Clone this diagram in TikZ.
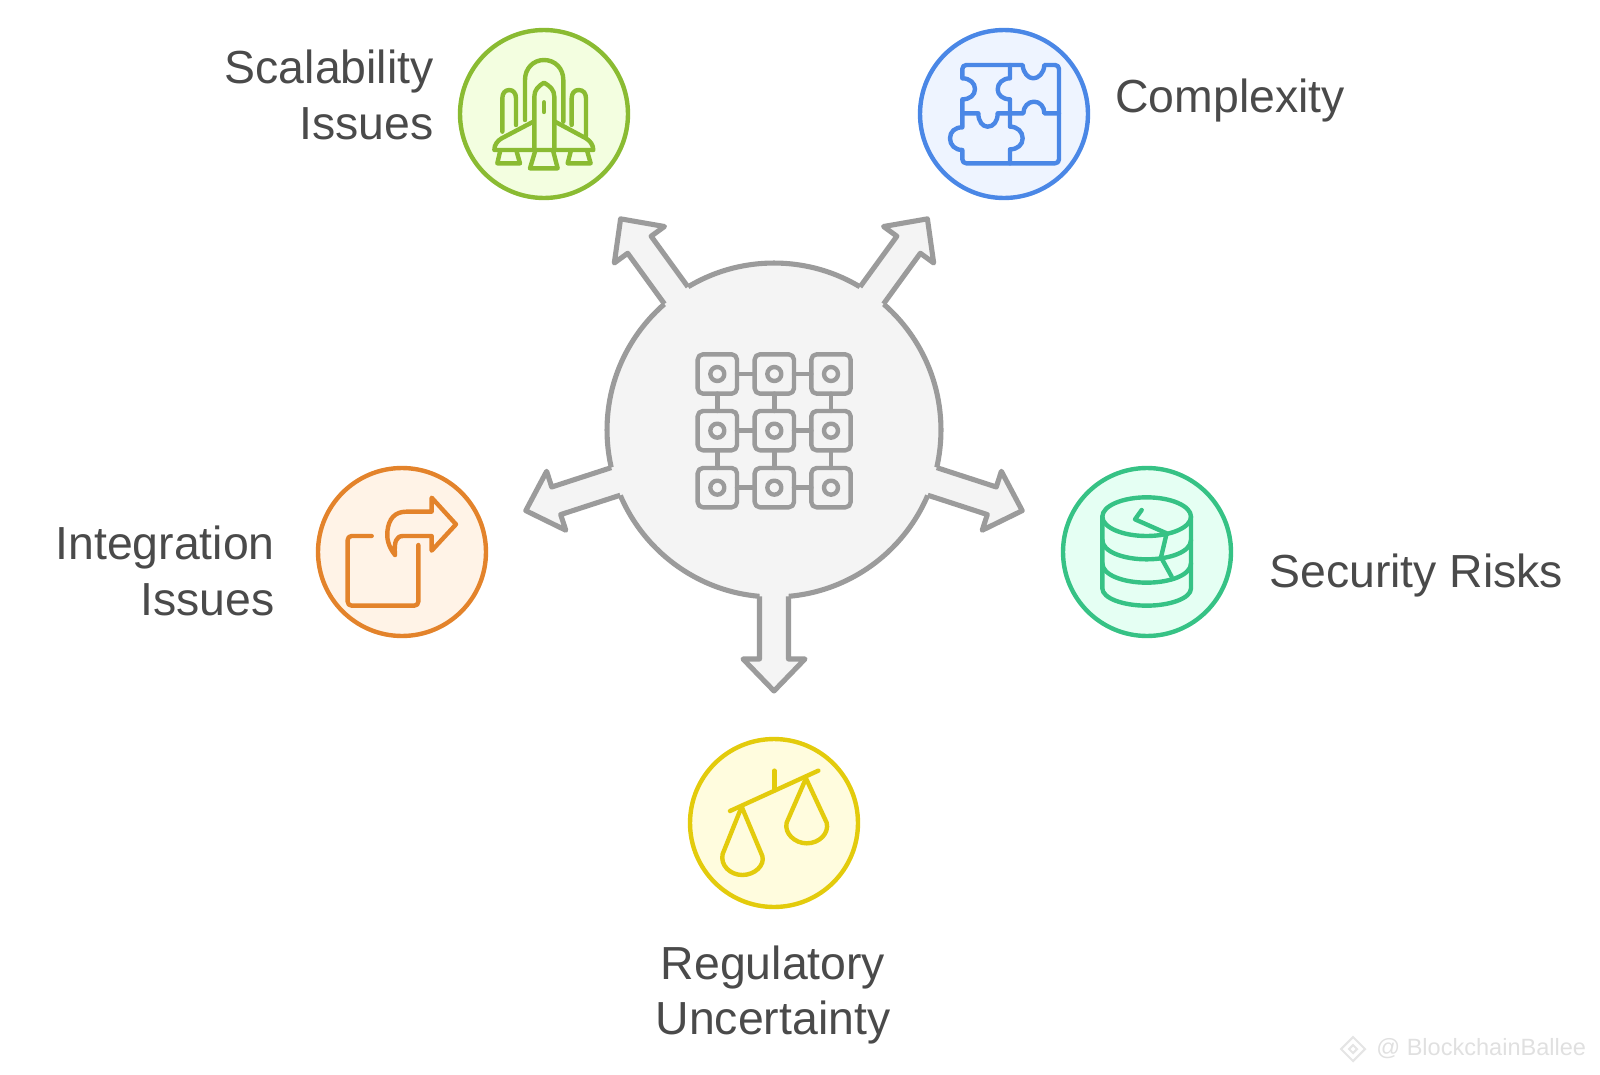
\documentclass[tikz,border=0pt]{standalone}
\usepackage{fontspec}
\setmainfont{Liberation Sans}
\usetikzlibrary{positioning}

\definecolor{hubline}{HTML}{9B9B9B}
\definecolor{hubfill}{HTML}{F4F4F4}
\definecolor{scalline}{HTML}{8ABB32}
\definecolor{scalfill}{HTML}{F3FEE0}
\definecolor{compline}{HTML}{4A87E6}
\definecolor{compfill}{HTML}{EEF4FF}
\definecolor{seculine}{HTML}{36C285}
\definecolor{secufill}{HTML}{E5FFF3}
\definecolor{inteline}{HTML}{E3832B}
\definecolor{intefill}{HTML}{FFF3E7}
\definecolor{reguline}{HTML}{E3CB0C}
\definecolor{regufill}{HTML}{FFFCDE}
\definecolor{labeltext}{HTML}{4A4A4A}

\tikzset{
  badge/.style={circle,draw=#1line,fill=#1fill,line width=2.5pt,minimum size=3.36cm,inner sep=0pt,outer sep=0pt},
  itemlabel/.style={text=labeltext,font=\fontsize{26.4}{31.8}\selectfont,inner sep=0pt},
  icon/.style={x=0.006667cm,y=-0.006667cm,line width=2.5pt,line cap=round,line join=round},
}

\begin{document}
\begin{tikzpicture}[x=0.02cm,y=0.02cm]
\useasboundingbox (0,0) rectangle (1600,-1075);
% hub
\node[circle,draw=hubline,fill=hubfill,line width=2.9pt,minimum size=6.68cm,inner sep=0pt,outer sep=0pt] (hub) at (774,-430) {};
% arms
\foreach \tipname/\ang in {tipscal/126,tipcomp/54,tipsecu/-18,tipregu/-90,tipinte/198}{
  \begin{scope}[shift={(hub.center)},rotate=\ang]
    \coordinate (\tipname) at (261,0);
    \fill[hubfill] (150,-14.5) -- (229,-14.5) -- (229,-31) -- (\tipname) -- (229,31) -- (229,14.5) -- (150,14.5) -- cycle;
    \draw[hubline,line width=2.9pt,line join=round] (166.4,-14.5) -- (229,-14.5) -- (229,-31) -- (\tipname) -- (229,31) -- (229,14.5) -- (166.4,14.5);
  \end{scope}
}
% hub grid
\begin{scope}[shift={(680,-340)},icon,hubline]
  \foreach \cx in {112,283,453}{
    \foreach \cy in {102,272,443}{
      \draw[rounded corners=3pt] (\cx-59,\cy-59) rectangle (\cx+59,\cy+59);
      \draw (\cx,\cy) circle (21);
    }
  }
  \foreach \cy in {102,272,443}{
    \draw (171,\cy) -- (224,\cy);
    \draw (342,\cy) -- (394,\cy);
  }
  \foreach \cx in {112,283,453}{
    \draw (\cx,161) -- (\cx,213);
    \draw (\cx,331) -- (\cx,384);
  }
\end{scope}
% badges
\node[badge=scal] (scal) at (544,-114) {};
\node[badge=comp] (comp) at (1004,-114) {};
\node[badge=secu] (secu) at (1147,-552) {};
\node[badge=inte] (inte) at (402,-552) {};
\node[badge=regu] (regu) at (774,-823) {};
% rocket
\begin{scope}[shift={(440,-10)},icon,scalline]
  \draw (255,330) -- (255,210) .. controls (255,175) and (280,150) .. (312,150) .. controls (345,150) and (370,175) .. (370,210) -- (370,335);
  \draw (283,418) -- (283,260) .. controls (283,240) and (295,228) .. (312,218) .. controls (330,228) and (343,240) .. (343,260) -- (343,418);
  \draw (312,277) -- (312,306);
  \draw (187,365) -- (187,265) .. controls (187,250) and (195,240) .. (208,240) .. controls (220,240) and (228,250) .. (228,265) -- (228,345);
  \draw (395,345) -- (395,265) .. controls (395,250) and (403,240) .. (416,240) .. controls (430,240) and (438,250) .. (438,265) -- (438,378);
  \draw (280,335) -- (185,385) .. controls (172,392) and (163,405) .. (163,420) -- (460,420) .. controls (460,405) and (450,392) .. (438,385) -- (345,335);
  \draw (180,425) -- (172,460) -- (240,460) -- (230,425);
  \draw (285,425) -- (270,475) -- (353,475) -- (340,425);
  \draw (392,425) -- (383,460) -- (452,460) -- (442,425);
\end{scope}
% puzzle
\begin{scope}[shift={(900,-10)},icon,compline]
  \draw (187,205) -- (187,177) .. controls (187,170) and (192,165) .. (199,165) -- (368,165) .. controls (370,190) and (385,205) .. (400,205) .. controls (415,205) and (432,190) .. (433,165) -- (465,165) .. controls (472,165) and (477,170) .. (477,177) -- (477,448) .. controls (477,455) and (472,460) .. (465,460) -- (199,460) .. controls (192,460) and (187,455) .. (187,448) -- (187,420) .. controls (165,420) and (150,405) .. (150,385) .. controls (150,365) and (165,352) .. (187,352) -- (187,268) .. controls (210,268) and (225,255) .. (225,237) .. controls (225,220) and (210,205) .. (187,205);
  \draw (330,165) -- (330,205) .. controls (308,205) and (293,220) .. (293,238) .. controls (293,255) and (308,268) .. (330,268) -- (330,350) .. controls (352,350) and (368,365) .. (368,385) .. controls (368,405) and (352,418) .. (330,418) -- (330,460);
  \draw (187,310) -- (235,310) .. controls (235,335) and (248,350) .. (263,350) .. controls (280,350) and (293,335) .. (293,310) -- (370,310) .. controls (370,290) and (385,275) .. (402,275) .. controls (420,275) and (433,290) .. (433,310) -- (477,310);
\end{scope}
% database
\begin{scope}[shift={(1050,-460)},icon,seculine]
  \draw (290,170) ellipse [x radius=133,y radius=58];
  \draw (157,170) -- (157,385) .. controls (157,415) and (220,437) .. (290,437) .. controls (360,437) and (423,415) .. (423,385) -- (423,170);
  \draw (157,240) .. controls (157,275) and (220,298) .. (290,298) .. controls (360,298) and (423,275) .. (423,240);
  \draw (157,310) .. controls (157,345) and (220,368) .. (290,368) .. controls (360,368) and (423,345) .. (423,310);
  \draw (275,150) -- (255,178) -- (350,220) -- (333,292) -- (365,350);
\end{scope}
% export
\begin{scope}[shift={(310,-460)},icon,inteline]
  \draw (185,228) -- (125,228) .. controls (118,228) and (113,233) .. (113,240) -- (113,425) .. controls (113,432) and (118,437) .. (125,437) -- (313,437) .. controls (320,437) and (325,432) .. (325,425) -- (325,255);
  \draw (255,285) .. controls (235,260) and (230,235) .. (232,215) .. controls (236,175) and (255,155) .. (290,155) -- (365,155) -- (365,113) -- (438,193) -- (365,272) -- (365,228) -- (280,228) .. controls (258,228) and (252,245) .. (255,285);
\end{scope}
% scales
\begin{scope}[shift={(680,-730)},icon,reguline]
  \draw (150,243) -- (415,122);
  \draw (283,122) -- (283,180);
  \draw (185,230) -- (128,372) .. controls (120,405) and (150,435) .. (187,435) .. controls (225,435) and (255,405) .. (247,378) -- cycle;
  \draw (378,145) -- (320,278) .. controls (312,310) and (345,340) .. (380,340) .. controls (418,340) and (448,310) .. (440,278) -- cycle;
\end{scope}
% labels
\node[itemlabel,align=right,anchor=east] (scallabel) at (434,-95) {Scalability\\Issues};
\node[itemlabel,anchor=west] (complabel) at (1115,-101) {Complexity};
\node[itemlabel,anchor=west] (seculabel) at (1269,-576) {Security Risks};
\node[itemlabel,align=right,anchor=east] (intelabel) at (275,-571) {Integration\\Issues};
\node[itemlabel,align=center] (regulabel) at (773,-995) {Regulatory\\Uncertainty};
% watermark
\node[text=black!12,font=\fontsize{13.4}{16}\selectfont,inner sep=0pt,anchor=west] (mark) at (1376,-1049) {@ BlockchainBallee};
\draw[black!10,line width=1.2pt] (1341,-1049) -- (1353,-1037) -- (1365,-1049) -- (1353,-1061) -- cycle;
\draw[black!10,line width=1.2pt] (1349,-1049) -- (1353,-1045) -- (1357,-1049) -- (1353,-1053) -- cycle;
\end{tikzpicture}
\end{document}
